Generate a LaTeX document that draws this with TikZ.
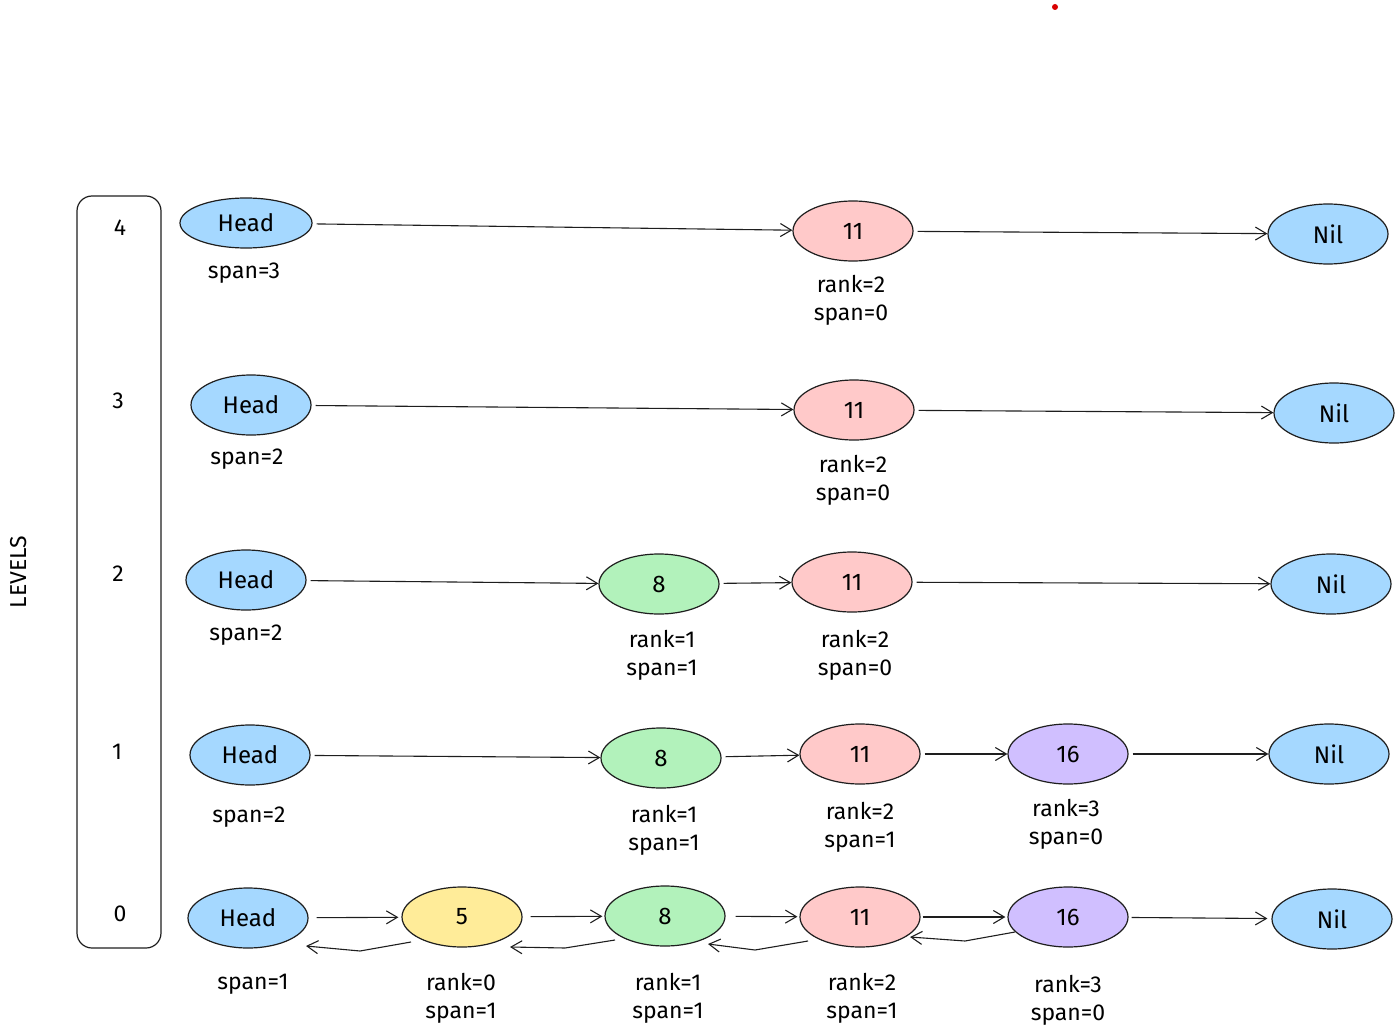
\documentclass[tikz,border=0pt]{standalone}
\usepackage{fontspec}
\setmainfont{Fira Sans}
\usetikzlibrary{shapes.geometric,arrows.meta,calc}
\definecolor{stroke}{HTML}{1E1E1E}
\definecolor{cblue}{HTML}{A5D8FF}
\definecolor{cpink}{HTML}{FFC9C9}
\definecolor{cgreen}{HTML}{B2F2BB}
\definecolor{cyellow}{HTML}{FFEC99}
\definecolor{cpurple}{HTML}{D0BFFF}
\begin{document}
\begin{tikzpicture}[x=1pt,y=-1pt,
  ell/.style={ellipse, draw=stroke, line width=1.2pt, minimum width=120pt, minimum height=60pt, inner sep=0pt, font=\fontsize{24}{28}\selectfont},
  bl/.style={ell, fill=cblue},
  pk/.style={ell, fill=cpink},
  gr/.style={ell, fill=cgreen},
  ye/.style={ell, fill=cyellow},
  pu/.style={ell, fill=cpurple},
  lbl/.style={align=center, font=\fontsize{23}{28}\selectfont, inner sep=0pt},
  arr/.style={draw=stroke, line width=1.1pt, -{Straight Barb[length=11pt,width=13pt]}},
  fw/.style={arr, shorten <=4pt},
]
\useasboundingbox (0,0) rectangle (1400,1035);
\fill[red!85!black] (1055,7) circle (3);

% level box
\node[draw=stroke, line width=1.2pt, rounded corners=15pt, minimum width=84pt, minimum height=752pt, inner sep=0pt] (box) at (119,572) {};
\node[lbl] (l4) at (120,228) {4};
\node[lbl] (l3) at (118,401) {3};
\node[lbl] (l2) at (118,574) {2};
\node[lbl] (l1) at (117,752) {1};
\node[lbl] (l0) at (120,914) {0};
\node[lbl, rotate=90] (levels) at (19,572) {LEVELS};

% level 4
\node[bl, minimum width=132pt, minimum height=50pt] (h4) at (246,223) {Head};
\node[pk] (e4) at (853,231) {11};
\node[bl] (n4) at (1328,234) {Nil};
\node[lbl] (sh4) at (244,273) {span=3};
\node[lbl] (se4) at (851,300) {rank=2\\span=0};
\draw[fw] (h4) -- (e4);
\draw[fw] (e4) -- (n4);

% level 3
\node[bl] (h3) at (251,405) {Head};
\node[pk] (e3) at (854,410) {11};
\node[bl] (n3) at (1334,413) {Nil};
\node[lbl] (sh3) at (247,459) {span=2};
\node[lbl] (se3) at (853,480) {rank=2\\span=0};
\draw[fw] (h3) -- (e3);
\draw[fw] (e3) -- (n3);

% level 2
\node[bl] (h2) at (246,580) {Head};
\node[gr] (g2) at (659,584) {8};
\node[pk] (e2) at (852,582) {11};
\node[bl] (n2) at (1331,584) {Nil};
\node[lbl] (sh2) at (246,635) {span=2};
\node[lbl] (sg2) at (662,655) {rank=1\\span=1};
\node[lbl] (se2) at (855,655) {rank=2\\span=0};
\draw[fw] (h2) -- (g2);
\draw[fw] (g2) -- (e2);
\draw[fw] (e2) -- (n2);

% level 1
\node[bl] (h1) at (250,755) {Head};
\node[gr] (g1) at (661,758) {8};
\node[pk] (e1) at (860,754) {11};
\node[pu] (s1) at (1068,754) {16};
\node[bl] (n1) at (1329,754) {Nil};
\node[lbl] (sh1) at (249,817) {span=2};
\node[lbl] (sg1) at (664,830) {rank=1\\span=1};
\node[lbl] (se1) at (860,827) {rank=2\\span=1};
\node[lbl] (ss1) at (1066,824) {rank=3\\span=0};
\draw[fw] (h1) -- (g1);
\draw[fw] (g1) -- (e1);
\draw[fw] (e1) -- (s1);
\draw[fw] (s1) -- (n1);

% level 0
\node[bl] (h0) at (248,918) {Head};
\node[ye] (f0) at (462,917) {5};
\node[gr] (g0) at (665,916) {8};
\node[pk] (e0) at (860,917) {11};
\node[pu] (s0) at (1068,917) {16};
\node[bl] (n0) at (1332,919) {Nil};
\node[lbl] (sh0) at (253,984) {span=1};
\node[lbl] (sf0) at (461,998) {rank=0\\span=1};
\node[lbl] (sg0) at (668,998) {rank=1\\span=1};
\node[lbl] (se0) at (862,998) {rank=2\\span=1};
\node[lbl] (ss0) at (1068,1000) {rank=3\\span=0};
\draw[arr, shorten <=8pt, shorten >=3pt] (h0) -- (f0);
\draw[arr, shorten <=8pt, shorten >=2pt] (f0) -- (g0);
\draw[arr, shorten <=10pt, shorten >=2pt] (g0) -- (e0);
\draw[arr, shorten <=2pt, shorten >=2pt] (e0) -- (s0);
\draw[arr, shorten <=3pt, shorten >=4pt] (s0) -- (n0);
% backward links
\draw[arr] ([shift={(-51,25)}]f0.center) -- ([shift={(-102,34)}]f0.center) -- ([shift={(58,28)}]h0.center);
\draw[arr] ([shift={(-50,24)}]g0.center) -- ([shift={(-100,32)}]g0.center) -- ([shift={(48,30)}]f0.center);
\draw[arr] ([shift={(-52,24)}]e0.center) -- ([shift={(-105,33)}]e0.center) -- ([shift={(43,28)}]g0.center);
\draw[arr] ([shift={(-53,15)}]s0.center) -- ([shift={(-103,24)}]s0.center) -- ([shift={(50,20)}]e0.center);
\end{tikzpicture}
\end{document}
